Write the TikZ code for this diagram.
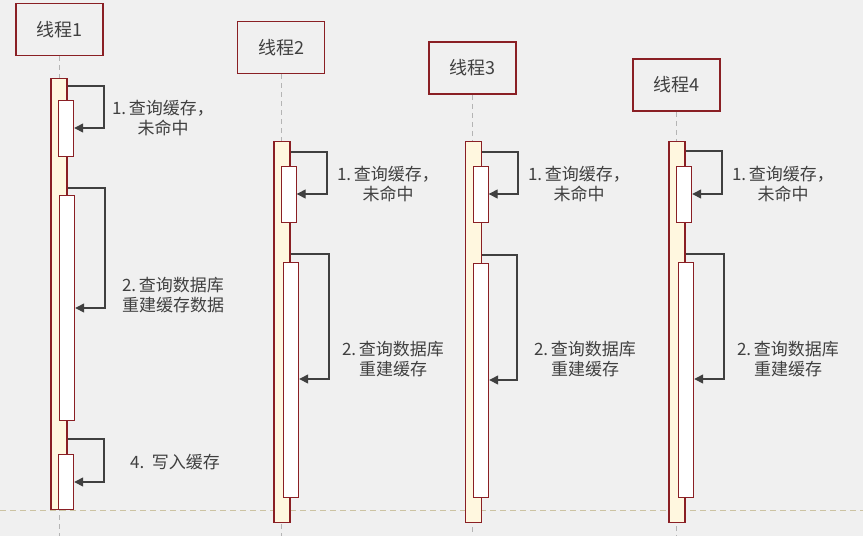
\documentclass[tikz,border=0pt]{standalone}
\usepackage{fontspec}
\setmainfont{Noto Sans CJK SC}
\usetikzlibrary{arrows.meta}
\definecolor{bgc}{HTML}{F0F0F0}
\definecolor{maroonc}{HTML}{8A1F24}
\definecolor{baryc}{HTML}{FFF7DF}
\definecolor{inkc}{HTML}{404040}
\definecolor{lifec}{HTML}{B4B4B4}
\definecolor{sepc}{HTML}{CCC3A3}
\begin{document}
\begin{tikzpicture}[x=1pt,y=-1pt,
  head/.style={draw=maroonc, line width=1.5pt, fill=bgc, minimum width=87pt, minimum height=52pt, inner sep=0pt, text=inkc, font=\fontsize{18}{20}\selectfont},
  outerbar/.style={draw=maroonc, line width=1.2pt, fill=baryc, minimum width=16pt, inner sep=0pt, anchor=north},
  innerbox/.style={draw=maroonc, line width=1.2pt, fill=white, minimum width=15pt, inner sep=0pt, anchor=north west},
  msg/.style={draw=inkc, line width=1.4pt, -{Triangle[length=9pt,width=9pt]}},
  lbl/.style={text=inkc, align=center, inner sep=0pt, font=\fontsize{17}{20}\selectfont},
  life/.style={draw=lifec, line width=1pt, dash pattern=on 5pt off 4pt},
  sep/.style={draw=sepc, line width=1pt, dash pattern=on 6pt off 4pt}]
\fill[bgc] (0,0) rectangle (863,536);
\useasboundingbox (0,0) rectangle (863,536);

% headers
\node[head] (h1) at (59.5,29.5) {线程1};
\node[head] (h2) at (281,47.5) {线程2};
\node[head] (h3) at (472.5,68) {线程3};
\node[head] (h4) at (676.5,85) {线程4};

% separator
\coordinate (sl) at (0,510);
\coordinate (sr) at (863,510);
\draw[sep] (sl) -- (sr);

% lifelines
\coordinate (e1) at (59,536);
\coordinate (e2) at (282,536);
\coordinate (e3) at (473.5,536);
\coordinate (e4) at (677,536);
\draw[life] (h1.south) -- (h1.south |- e1);
\draw[life] (h2.south) -- (h2.south |- e2);
\draw[life] (h3.south) -- (h3.south |- e3);
\draw[life] (h4.south) -- (h4.south |- e4);

% outer activation bars
\node[outerbar, minimum height=431pt] (o1) at (59,78) {};
\node[outerbar, minimum height=381pt] (o2) at (282,141) {};
\node[outerbar, minimum height=381pt] (o3) at (473.5,141) {};
\node[outerbar, minimum height=381pt] (o4) at (677,141) {};

% inner boxes
\node[innerbox, minimum height=56pt] (i1a) at (58,100) {};
\node[innerbox, minimum height=225pt] (i1b) at (59,195) {};
\node[innerbox, minimum height=55pt] (i1c) at (58,454) {};
\node[innerbox, minimum height=56pt] (i2a) at (280.5,166) {};
\node[innerbox, minimum height=235pt] (i2b) at (283,262) {};
\node[innerbox, minimum height=56pt] (i3a) at (472.5,166) {};
\node[innerbox, minimum height=234pt] (i3b) at (473,263) {};
\node[innerbox, minimum height=56pt] (i4a) at (676,166) {};
\node[innerbox, minimum height=235pt] (i4b) at (678,262) {};

% self messages
\draw[msg] (o1.east |- 0,86) -| (104,128) -- (i1a.east |- 0,128);
\draw[msg] (o1.east |- 0,188) -| (105,308) -- (i1b.east |- 0,308);
\draw[msg] (o1.east |- 0,439) -| (104,482) -- (i1c.east |- 0,482);
\draw[msg] (o2.east |- 0,152) -| (327,194) -- (i2a.east |- 0,194);
\draw[msg] (o2.east |- 0,254) -| (329,379) -- (i2b.east |- 0,379);
\draw[msg] (o3.east |- 0,152) -| (518,194) -- (i3a.east |- 0,194);
\draw[msg] (o3.east |- 0,255) -| (517,380) -- (i3b.east |- 0,380);
\draw[msg] (o4.east |- 0,151) -| (722,194) -- (i4a.east |- 0,194);
\draw[msg] (o4.east |- 0,254) -| (724,379) -- (i4b.east |- 0,379);

% labels
\node[lbl] (l1a) at (163,118) {1.\,查询缓存，\\未命中};
\node[lbl] (l1b) at (173,295) {2.\,查询数据库\\重建缓存数据};
\node[lbl] (l1c) at (175,462) {4.\ \ 写入缓存};
\node[lbl] (l2a) at (388,184) {1.\,查询缓存，\\未命中};
\node[lbl] (l2b) at (393,359) {2.\,查询数据库\\重建缓存};
\node[lbl] (l3a) at (579,184) {1.\,查询缓存，\\未命中};
\node[lbl] (l3b) at (585,359) {2.\,查询数据库\\重建缓存};
\node[lbl] (l4a) at (783,184) {1.\,查询缓存，\\未命中};
\node[lbl] (l4b) at (788,359) {2.\,查询数据库\\重建缓存};
\end{tikzpicture}
\end{document}
